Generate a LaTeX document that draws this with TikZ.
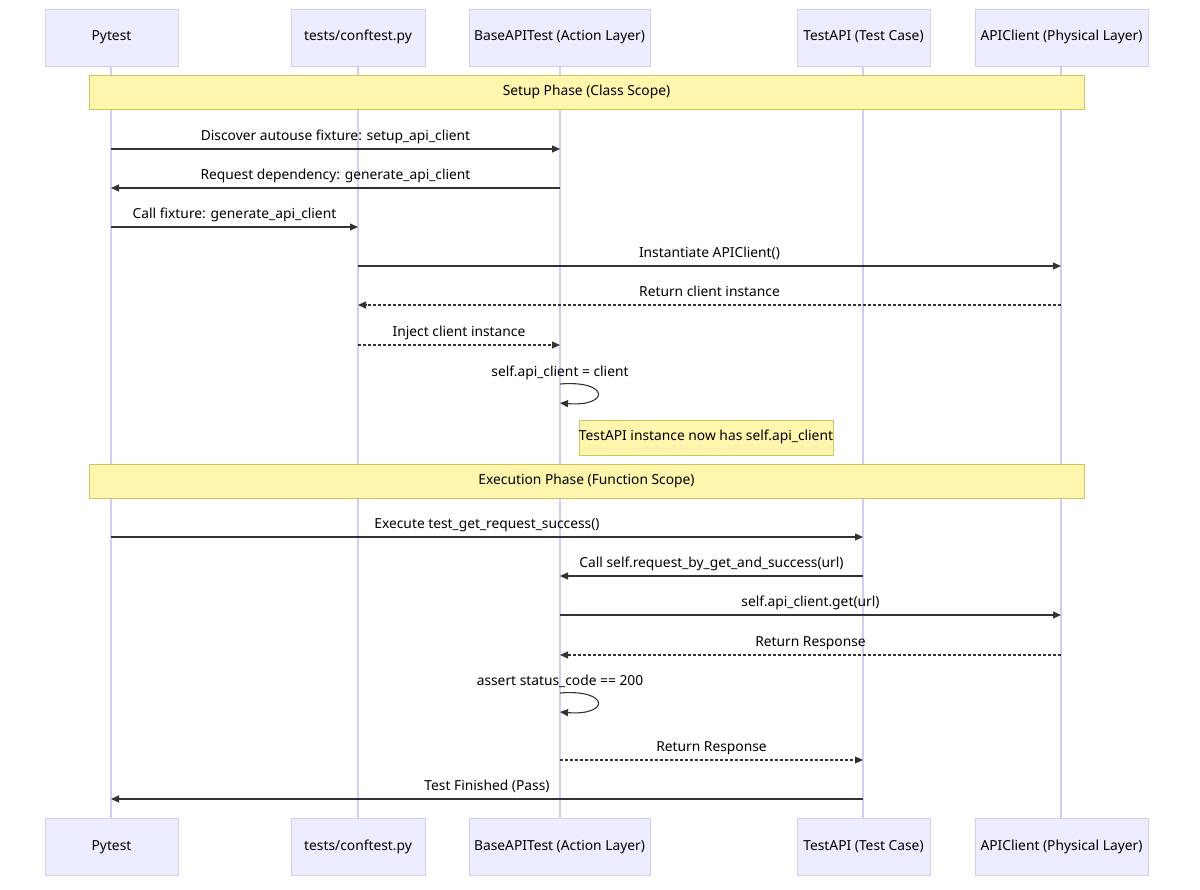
\documentclass[tikz,border=0pt]{standalone}
\usepackage{fontspec}
\setmainfont{Noto Sans}
\usetikzlibrary{arrows.meta}
\definecolor{actfill}{HTML}{ECECFF}
\definecolor{actline}{HTML}{D6CCF2}
\definecolor{notefill}{HTML}{FFF5AD}
\definecolor{notebd}{HTML}{C8C860}
\definecolor{ink}{HTML}{333333}
\begin{document}
\begin{tikzpicture}[x=1pt,y=-1pt,
  actor/.style={draw=actline,fill=actfill,minimum height=57pt,inner sep=0pt,font=\fontsize{13.8}{15}\selectfont,text=black,text height=10pt,text depth=3pt},
  life/.style={draw=actline,line width=1.5pt},
  note/.style={draw=notebd,fill=notefill,inner sep=0pt,font=\fontsize{13.8}{15}\selectfont,text=black,text height=10pt,text depth=3pt},
  msg/.style={draw=ink,line width=1.1pt,-{Triangle[length=8pt,width=7pt]}},
  ret/.style={msg,dash pattern=on 3pt off 2pt},
  lbl/.style={font=\fontsize{13.8}{15}\selectfont,text=black,inner sep=0pt,text height=10pt,text depth=3pt}]
\useasboundingbox (0,0) rectangle (1200,890);
% lifelines
\foreach \x in {111,358,560,863,1061}{\draw[life] (\x,66) -- (\x,818);}
% actors
\foreach \n/\l/\r/\t in {p/45/178/Pytest,c/291/425/{tests/conftest.py},b/469/650/BaseAPITest (Action Layer),t/797/930/TestAPI (Test Case),a/975/1148/APIClient (Physical Layer)}{
  \node[actor,minimum width=\r pt-\l pt] (\n top) at ({(\l+\r)/2},37.5) {\t};
  \node[actor,minimum width=\r pt-\l pt] (\n bot) at ({(\l+\r)/2},846.5) {\t};
}
% phases
\node[note,minimum width=995pt,minimum height=34pt] (setup) at (586.5,92) {Setup Phase (Class Scope)};
\node[note,minimum width=995pt,minimum height=34pt] (exec) at (586.5,481) {Execution Phase (Function Scope)};
\node[note,minimum width=250pt,minimum height=35pt] (inst) at (706,437.5) {TestAPI instance now has self.api\_client};
% coordinates
\foreach \n/\x in {P/111,C/358,B/560,T/863,A/1061}{
  \foreach \y in {149,188,227,266,305,345,384,403,537,576,615,655,693,712,760,799}{
    \coordinate (\n\y) at (\x,\y);}}
\draw[msg] (P149) -- node[lbl,above=5pt]{Discover autouse fixture: setup\_api\_client} (B149);
\draw[msg] (B188) -- node[lbl,above=5pt]{Request dependency: generate\_api\_client} (P188);
\draw[msg] (P227) -- node[lbl,above=5pt]{Call fixture: generate\_api\_client} (C227);
\draw[msg] (C266) -- node[lbl,above=5pt]{Instantiate APIClient()} (A266);
\draw[ret] (A305) -- node[lbl,above=5pt]{Return client instance} (C305);
\draw[ret] (C345) -- node[lbl,above=5pt]{Inject client instance} (B345);
\node[lbl] (selfl) at (560,373) {self.api\_client = client};
\draw[msg] (B384) .. controls (610,380) and (610,407) .. (B403);
\draw[msg] (P537) -- node[lbl,above=5pt]{Execute test\_get\_request\_success()} (T537);
\draw[msg] (T576) -- node[lbl,above=5pt]{Call self.request\_by\_get\_and\_success(url)} (B576);
\draw[msg] (B615) -- node[lbl,above=5pt]{self.api\_client.get(url)} (A615);
\draw[ret] (A655) -- node[lbl,above=5pt]{Return Response} (B655);
\node[lbl] (assertl) at (560,682) {assert status\_code == 200};
\draw[msg] (B693) .. controls (610,689) and (610,716) .. (B712);
\draw[ret] (B760) -- node[lbl,above=5pt]{Return Response} (T760);
\draw[msg] (T799) -- node[lbl,above=5pt]{Test Finished (Pass)} (P799);
\end{tikzpicture}
\end{document}
